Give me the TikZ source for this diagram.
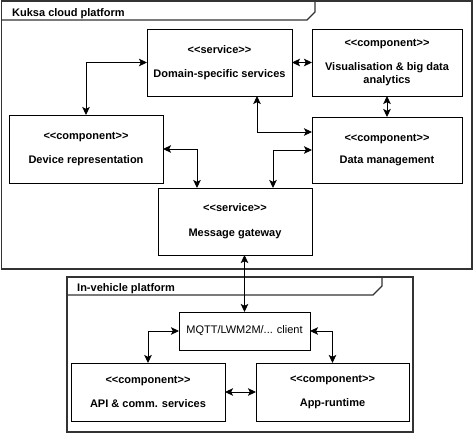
\documentclass[tikz,border=0pt]{standalone}
\usepackage{fontspec}
\setmainfont{Liberation Sans}
\usetikzlibrary{arrows.meta}
\newcommand\stereo[1]{<\kern0pt<#1>\kern0pt>}
\begin{document}
\begin{tikzpicture}[x=1pt,y=-1pt,
  box/.style={draw=black, line width=0.9pt, inner sep=0pt, outer sep=0pt, align=center,
    font=\fontsize{11}{13}\selectfont\bfseries},
  plainbox/.style={box, font=\fontsize{11}{13}\selectfont},
  frame/.style={draw=black!80, line width=1.4pt},
  title/.style={anchor=base west, inner sep=0pt, font=\fontsize{11}{13}\selectfont\bfseries},
  arr/.style={line width=0.9pt, {Stealth[length=8pt,width=7.5pt,inset=1.8pt]}-{Stealth[length=8pt,width=7.5pt,inset=1.8pt]}}
]
\useasboundingbox[fill=white] (0,0) rectangle (474,433);
% frames
\draw[frame] (1.5,1) rectangle (472,269);
\draw[frame] (1.5,20) -- (307,20) -- (315,12) -- (315,1);
\node[title] (cloudt) at (12,17) {Kuksa cloud platform};
\draw[frame] (67,277) rectangle (413,432);
\draw[frame] (67,295) -- (373,295) -- (382,286) -- (382,277);
\node[title] (vehit) at (77,291) {In-vehicle platform};
% boxes
\node[box, minimum width=145pt, minimum height=67pt] (dom) at (219.5,62.5) {\stereo{service}\\[11pt]Domain-specific services};
\node[box, minimum width=150pt, minimum height=67pt] (vis) at (387,62.5) {\stereo{component}\\[11pt]Visualisation \& big data\\analytics};
\node[box, minimum width=154pt, minimum height=68pt] (dev) at (86,149) {\stereo{component}\\[11pt]Device representation};
\node[box, minimum width=150pt, minimum height=66pt] (dm) at (387,150) {\stereo{component}\\[9pt]Data management};
\node[box, minimum width=154pt, minimum height=67pt] (gw) at (235,221.5) {\stereo{service}\\[12pt]Message gateway};
\node[plainbox, minimum width=131pt, minimum height=38pt] (mq) at (244.5,331) {MQTT/LWM2M/... client};
\node[box, minimum width=154pt, minimum height=58pt] (api) at (148,392) {\stereo{component}\\[11pt]API \& comm. services};
\node[box, minimum width=153pt, minimum height=58pt] (app) at (332.5,392) {\stereo{component}\\[11pt]App-runtime};
% connectors
\draw[arr] (dom.west) -| (dev.north);
\draw[arr] (dom.east) -- (vis.west);
\draw[arr] ([xshift=37.5pt]dom.south) |- ([yshift=18pt]dm.west);
\draw[arr] (vis.south) -- (dm.north);
\draw[arr] (dev.east) -| ([xshift=-38pt]gw.north);
\draw[arr] (dm.west) -| ([xshift=38pt]gw.north);
\draw[arr] (gw.south -| mq.north) -- (mq.north);
\draw[arr] (mq.west) -| (api.north);
\draw[arr] (mq.east) -| (app.north);
\draw[arr] (api.east) -- (app.west);
\end{tikzpicture}
\end{document}
